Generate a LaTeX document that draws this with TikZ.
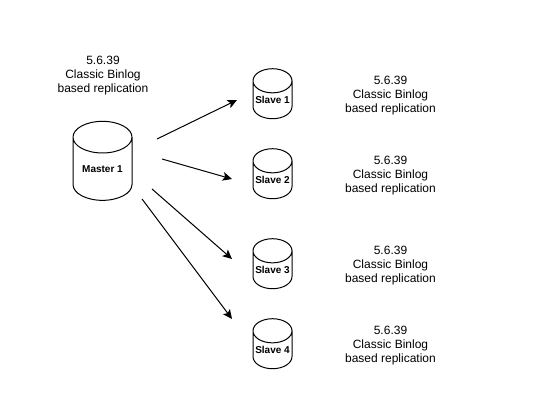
\documentclass[tikz,border=0pt]{standalone}
\usepackage{fontspec}
\setmainfont{Liberation Sans}
\usetikzlibrary{arrows.meta,shapes.geometric}
\tikzset{
  db/.style={shape=cylinder, shape border rotate=90, draw=black, line width=0.75pt,
             inner sep=0pt, font=\fontsize{7.5}{9}\selectfont\bfseries},
  dbsmall/.style={db, aspect=0.7, minimum width=29.25pt, minimum height=37.5pt},
  dbbig/.style={db, aspect=0.78, minimum width=44.25pt, minimum height=59.25pt},
  version/.style={align=center, inner sep=0pt, font=\fontsize{9}{10.5}\selectfont},
  replica/.style={-{Stealth[length=7pt,width=6.5pt,inset=1.6pt]}, line width=0.75pt, black},
}
\begin{document}
\begin{tikzpicture}[x=0.75pt,y=-0.75pt]
  \useasboundingbox (0,0) rectangle (550,416);
  % master on the left, four replicas on the right
  \node[dbbig] (master) at (102.5,169) {Master 1};
  \node[version] (masterver) at (103,75.5) {5.6.39\\Classic Binlog\\based replication};
  \foreach \n/\y in {1/95,2/175,3/265,4/345}{
    \node[dbsmall] (slave\n) at (272.5,\y+5) {Slave \n};
    \node[version] (slavever\n) at (390.5,\y+1) {5.6.39\\Classic Binlog\\based replication};
  }
  % arrows stop short of the shapes
  \coordinate (from1) at (157,139);
  \coordinate (to1) at (237,100);
  \coordinate (from2) at (162,159);
  \coordinate (to2) at (232,179);
  \coordinate (from3) at (152,189);
  \coordinate (to3) at (232,259);
  \coordinate (from4) at (142,199);
  \coordinate (to4) at (232,319);
  \foreach \n in {1,...,4}
    \draw[replica] (from\n) -- (to\n);
\end{tikzpicture}
\end{document}
